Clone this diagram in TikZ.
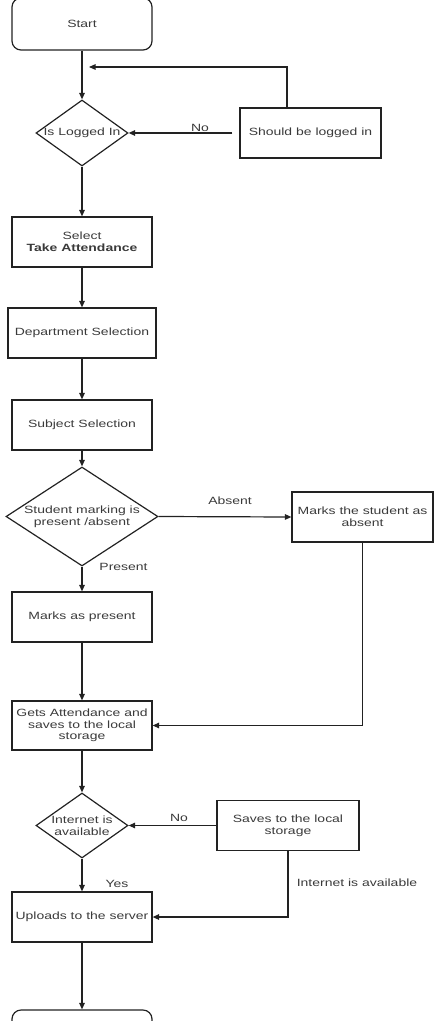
\documentclass[tikz,border=0pt]{standalone}
\usepackage{fontspec}
\setmainfont{Liberation Sans}[FakeStretch=1.33]
\usetikzlibrary{shapes.geometric,arrows.meta}
\definecolor{lc}{HTML}{222222}
\definecolor{tx}{HTML}{3A3A3A}
\begin{document}
\begin{tikzpicture}[x=1pt,y=-1pt,
  box/.style={draw=lc, line width=1.2pt, minimum width=140pt, minimum height=50pt, inner sep=0pt, text=tx, align=center, font=\fontsize{10.5}{11.7}\selectfont},
  dia/.style={draw=lc, line width=1.2pt, diamond, inner sep=0pt, aspect=1},
  txt/.style={text=tx, align=center, font=\fontsize{10.5}{11.7}\selectfont, inner sep=0pt},
  arr/.style={draw=lc, line width=1.2pt, -{Triangle[length=6.5pt,width=5.5pt]}}]
\useasboundingbox (0,0) rectangle (434,1032);
\begin{scope}
\clip (0,0) rectangle (434,1020);
\node[box, rounded corners=9pt, minimum height=52pt] (start) at (82,24) {Start};
\node[box, rounded corners=9pt] (end) at (82,1035) {};
\end{scope}
\node[dia, minimum width=92pt, minimum height=66pt] (d1) at (82,133) {};
\node[txt] (d1t) at (d1.center) {Is Logged In};
\node[box, minimum width=141pt] (sl) at (310.5,133) {Should be logged in};
\coordinate (fb) at (89,67);
\node[box] (sel) at (82,242) {Select\\\textbf{Take Attendance}};
\node[box, minimum width=148pt] (dep) at (82,333) {Department Selection};
\node[box] (sub) at (82,425) {Subject Selection};
\node[dia, minimum width=152pt, minimum height=99pt] (d2) at (82,516.5) {};
\node[txt] (d2t) at (d2.center) {Student marking is\\present /absent};
\node[box, minimum width=141pt] (ma) at (362.5,517) {Marks the student as\\absent};
\node[box] (mp) at (82,617) {Marks as present};
\node[box, minimum height=49pt] (ga) at (82,725.5) {Gets Attendance and\\saves to the local\\storage};
\node[dia, minimum width=92pt, minimum height=65pt] (d3) at (82,825.5) {};
\node[txt] (d3t) at (d3.center) {Internet is\\available};
\node[box, minimum width=142pt] (sv) at (288,825.5) {Saves to the local\\storage};
\node[box] (up) at (82,917) {Uploads to the server};
% connectors
\draw[arr] (start) -- (d1);
\draw[arr] ([xshift=-23.5pt]sl.north) |- (fb);
\draw[arr] ([xshift=-7pt]sl.west) -- (d1.east);
\draw[arr] (d1) -- (sel);
\draw[arr] (sel) -- (dep);
\draw[arr] (dep) -- (sub);
\draw[arr] (sub) -- (d2);
\draw[arr] (d2.east) -- (ma.west);
\draw[arr] (d2.south) -- (mp.north);
\draw[arr] (mp) -- (ga);
\draw[arr] (ma.south) |- (ga.east);
\draw[arr] (ga) -- (d3);
\draw[arr] (sv.west) -- (d3.east);
\draw[arr] (d3.south) -- (up.north);
\draw[arr] (sv.south) |- (up.east);
\draw[arr] (up.south) -- (end.north);
% labels
\node[txt, anchor=base] (lno1) at (200,132) {No};
\node[txt] (labs) at (230,501) {Absent};
\node[txt] (lpre) at (123.5,567) {Present};
\node[txt, anchor=base] (lno2) at (179,821) {No};
\node[txt] (lyes) at (117,884) {Yes};
\node[txt] (lia) at (357,883) {Internet is available};
\end{tikzpicture}
\end{document}
